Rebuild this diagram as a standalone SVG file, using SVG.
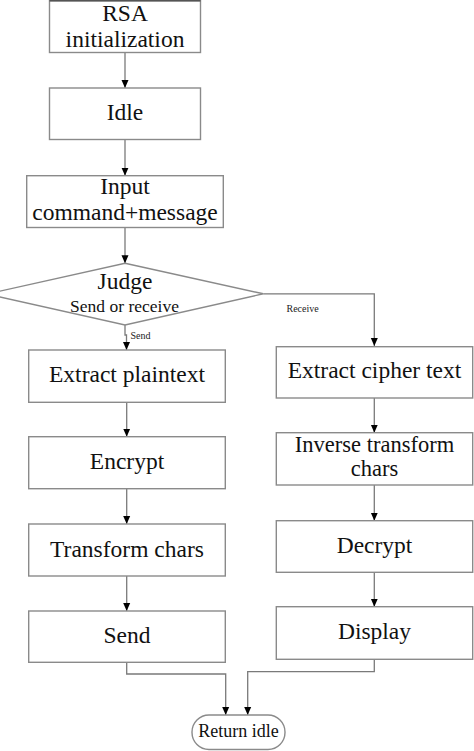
<svg xmlns="http://www.w3.org/2000/svg" width="474" height="751" viewBox="0 0 474 751">
<defs>
<style>
.box{fill:#fff;stroke:#8a8a8a;stroke-width:1.4}
.t{font-family:'Liberation Serif','Times New Roman',serif;font-size:23.5px;fill:#111;text-anchor:middle}
.s{font-family:'Liberation Serif','Times New Roman',serif;font-size:10px;fill:#222}
.ln{fill:none;stroke:#7a7a7a;stroke-width:1.3}
</style>
<marker id="ah" viewBox="0 0 8 8" refX="8" refY="4" markerWidth="8" markerHeight="8" markerUnits="userSpaceOnUse" orient="auto">
<path d="M0,0.5 L8,4 L0,7.5 z" fill="#000"/>
</marker>
</defs>
<rect width="474" height="751" fill="#fff"/>
<g id="connectors">
<path class="ln" d="M125,52.5 V88" marker-end="url(#ah)"/>
<path class="ln" d="M125,139.5 V175.7" marker-end="url(#ah)"/>
<path class="ln" d="M125,227.5 V263.3" marker-end="url(#ah)"/>
<path class="ln" d="M125,325 V335 H126.5 V350" marker-end="url(#ah)"/>
<path class="ln" d="M263.3,293.8 H374.3 V346" marker-end="url(#ah)"/>
<path class="ln" d="M126.7,402.3 V436.7" marker-end="url(#ah)"/>
<path class="ln" d="M126.7,488.7 V524" marker-end="url(#ah)"/>
<path class="ln" d="M126.7,576 V611" marker-end="url(#ah)"/>
<path class="ln" d="M374.3,398 V432.7" marker-end="url(#ah)"/>
<path class="ln" d="M374.3,485 V520.7" marker-end="url(#ah)"/>
<path class="ln" d="M374.3,572.3 V606.7" marker-end="url(#ah)"/>
<path class="ln" d="M126.7,662.3 V674 H225.7 V715" marker-end="url(#ah)"/>
<path class="ln" d="M374.3,659.3 V671.7 H247.7 V715" marker-end="url(#ah)"/>
<text class="s" x="130.5" y="339">Send</text>
<text class="s" x="286.5" y="312.3">Receive</text>
</g>
<g id="rsa-init">
<rect class="box" x="49.5" y="0.7" width="151" height="51.8"/>
<line x1="49.5" y1="0.7" x2="200.5" y2="0.7" stroke="#555" stroke-width="1.4"/>
<text class="t" x="125" y="20.7">RSA</text>
<text class="t" x="125" y="46.7">initialization</text>
</g>
<g id="idle">
<rect class="box" x="49.5" y="88" width="151" height="51.5"/>
<text class="t" x="125" y="120">Idle</text>
</g>
<g id="input">
<rect class="box" x="26.7" y="175.7" width="196.6" height="51.8"/>
<text class="t" x="125" y="194.3">Input</text>
<text class="t" x="125" y="220">command+message</text>
</g>
<g id="judge">
<polygon class="box" points="125,263.3 263.3,293.8 125,325 -13,294"/>
<text class="t" x="125" y="289.3">Judge</text>
<text class="t" x="124.5" y="311.7" style="font-size:17.5px">Send or receive</text>
</g>
<g id="extract-plaintext">
<rect class="box" x="28.7" y="350" width="196.6" height="52.3"/>
<text class="t" x="127" y="382.3">Extract plaintext</text>
</g>
<g id="encrypt">
<rect class="box" x="28.7" y="436.7" width="196.6" height="52"/>
<text class="t" x="127" y="469.3">Encrypt</text>
</g>
<g id="transform-chars">
<rect class="box" x="28.7" y="524" width="196.6" height="52"/>
<text class="t" x="127" y="556.7">Transform chars</text>
</g>
<g id="send">
<rect class="box" x="28.7" y="611" width="196.6" height="51.3"/>
<text class="t" x="127" y="643.3">Send</text>
</g>
<g id="extract-cipher">
<rect class="box" x="276.3" y="346.7" width="196.4" height="51.3"/>
<text class="t" x="374.5" y="378.3">Extract cipher text</text>
</g>
<g id="inverse-transform">
<rect class="box" x="276.3" y="432.7" width="196.4" height="52.3"/>
<text class="t" x="374.5" y="451.5" style="font-size:22.5px">Inverse transform</text>
<text class="t" x="374.5" y="475.5" style="font-size:22.5px">chars</text>
</g>
<g id="decrypt">
<rect class="box" x="276.3" y="520.7" width="196.4" height="51.6"/>
<text class="t" x="374.5" y="553.3">Decrypt</text>
</g>
<g id="display">
<rect class="box" x="276.3" y="606.7" width="196.4" height="52.6"/>
<text class="t" x="374.5" y="639.3">Display</text>
</g>
<g id="return-idle">
<rect class="box" x="192" y="715" width="93" height="34.5" rx="17" ry="17"/>
<text class="t" x="238.5" y="737.3" style="font-size:18px">Return idle</text>
</g>
</svg>
